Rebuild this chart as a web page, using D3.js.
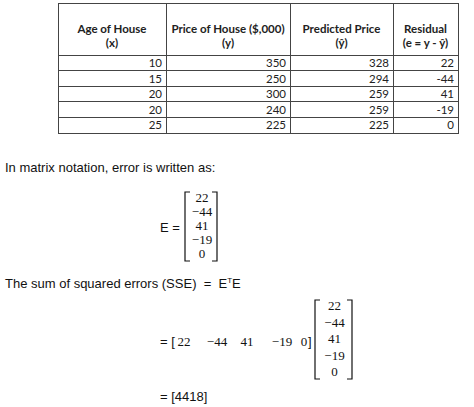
<!DOCTYPE html>
<html><head><meta charset="utf-8">
<script src="https://cdn.jsdelivr.net/npm/d3@7"></script>
<style>body{margin:0;background:#fff}</style>
</head><body>
<svg id="c" width="474" height="407"></svg>
<script>
// Data
var headers = [["Age of House", "(x)"], ["Price of House ($,000)", "(y)"], ["Predicted Price", "(ŷ)"], ["Residual", "(e = y - ŷ)"]];
var age = [10, 15, 20, 20, 25];
var price = [350, 250, 300, 240, 225];
var predicted = [328, 294, 259, 259, 225];
var residual = [22, -44, 41, -19, 0];
var sse = [4418];

var svg = d3.select("#c");
var colX = [58, 166, 290, 393, 458];
var rowY = d3.scaleLinear().domain([0, 5]).range([55, 133]);
var tf = "Lato, 'Open Sans', sans-serif";

// table grid
var g = svg.append("g").attr("stroke", "#444").attr("stroke-width", 1).attr("shape-rendering", "crispEdges");
g.append("rect").attr("x", 58).attr("y", 3).attr("width", 400).attr("height", 130).attr("fill", "none");
colX.slice(1, 4).forEach(function(x) {
  g.append("line").attr("x1", x).attr("x2", x).attr("y1", 3).attr("y2", 133);
});
d3.range(0, 5).forEach(function(i) {
  g.append("line").attr("x1", 58).attr("x2", 458).attr("y1", rowY(i)).attr("y2", rowY(i));
});

headers.forEach(function(h, j) {
  var cx = (colX[j] + colX[j + 1]) / 2;
  h.forEach(function(t, k) {
    svg.append("text").attr("x", cx).attr("y", 33 + k * 14).attr("text-anchor", "middle")
      .attr("font-family", tf).attr("font-size", 11.5).attr("font-weight", "bold").attr("fill", "#222").text(t);
  });
});

var cols = [age, price, predicted, residual];
cols.forEach(function(col, j) {
  svg.selectAll(null).data(col).enter().append("text")
    .attr("x", colX[j + 1] - 4).attr("y", function(d, i) { return rowY(i) + 12; })
    .attr("text-anchor", "end").attr("font-family", tf).attr("font-size", 11.5).attr("fill", "#222")
    .text(function(d) { return d; });
});

var af = "Arial, 'Liberation Sans', sans-serif";
var mf = "'Liberation Serif', serif";
function txt(x, y, s, anchor, fam, size) {
  return svg.append("text").attr("x", x).attr("y", y).attr("text-anchor", anchor || "start")
    .attr("xml:space", "preserve").style("white-space", "pre")
    .attr("font-family", fam || af).attr("font-size", size || 13).attr("fill", "#111").text(s);
}
function fmt(d) { return d < 0 ? "−" + Math.abs(d) : String(d); }

function column(x0, x1, top, bottom) {
  var my = d3.scaleLinear().domain([0, residual.length - 1]).range([top + 10, bottom - 3]);
  svg.selectAll(null).data(residual).enter().append("text")
    .attr("x", (x0 + x1) / 2 + 1).attr("y", function(d, i) { return my(i); })
    .attr("text-anchor", "middle").attr("font-family", mf).attr("font-size", 13).attr("fill", "#111")
    .text(fmt);
  var p = d3.path();
  p.moveTo(x0 + 5, top); p.lineTo(x0, top); p.lineTo(x0, bottom); p.lineTo(x0 + 5, bottom);
  p.moveTo(x1 - 5, top); p.lineTo(x1, top); p.lineTo(x1, bottom); p.lineTo(x1 - 5, bottom);
  svg.append("path").attr("d", p.toString()).attr("fill", "none").attr("stroke", "#111").attr("stroke-width", 1.2);
}

txt(5, 172, "In matrix notation, error is written as:");
txt(160, 232, "E =");
column(185, 217, 192, 261);

var t = txt(5, 288, "The sum of squared errors (SSE)  =  E");
t.append("tspan").attr("font-size", 8).attr("dy", -5).text("T");
t.append("tspan").attr("dy", 5).text("E");

txt(160, 346, "= [");
var rx = [184, 217, 247, 282, 304];
svg.selectAll(null).data(residual).enter().append("text")
  .attr("x", function(d, i) { return rx[i]; }).attr("y", 346).attr("text-anchor", "middle")
  .attr("font-family", mf).attr("font-size", 13).attr("fill", "#111").text(fmt);
txt(308, 346, "]");
column(315, 352, 300, 379);

txt(160, 401, "= [" + sse[0] + "]");
</script>
</body></html>
